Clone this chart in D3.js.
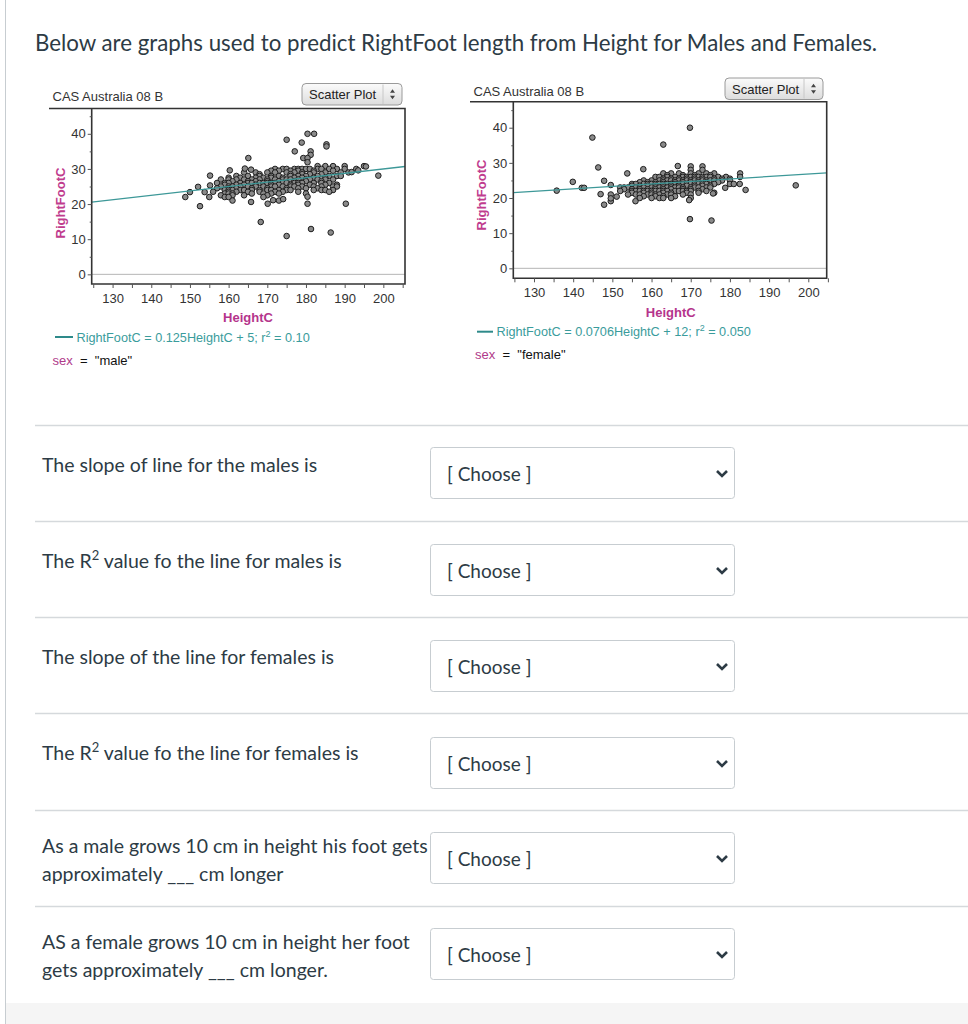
<!DOCTYPE html>
<html><head><meta charset="utf-8">
<script src="https://cdn.jsdelivr.net/npm/d3@7"></script>
<style>html,body{margin:0;padding:0;background:#fff;} svg{display:block}</style>
</head><body><svg id="page" width="968" height="1024"></svg>
<script>
// ---------------- DATA ----------------
const pageTitle = "Below are graphs used to predict RightFoot length from Height for Males and Females.";
const xTicks = [130, 140, 150, 160, 170, 180, 190, 200];
const yTicks = [0, 10, 20, 30, 40];

// males: rows of RightFootC value with the HeightC values seen on that row
const maleRows = [
  [30.8, [183, 185, 187, 190, 195]],
  [30, [172, 174, 175, 177, 178, 179, 180, 181, 183, 184, 186, 188, 190, 193]],
  [29.5, [171, 173, 176, 178, 182, 187]],
  [29, [164, 167, 170, 172, 175, 177, 179, 182, 185, 189, 191]],
  [28.5, [168, 176, 179, 181, 184]],
  [28, [162, 165, 168, 171, 173, 176, 178, 180, 183, 186, 188, 189]],
  [27.5, [160, 163, 167, 169, 171, 174, 177, 179, 182, 185]],
  [27, [158, 160, 162, 164, 166, 168, 170, 172, 174, 175, 176, 178, 180, 181, 183, 185, 187]],
  [26.5, [161, 165, 167, 170, 173, 177, 180, 184]],
  [26, [157, 159, 160, 163, 165, 166, 168, 169, 170, 171, 172, 174, 175, 177, 178, 179, 182, 184, 186]],
  [25.5, [159, 162, 164, 167, 171, 173, 176, 178, 181, 185, 188]],
  [25, [158, 160, 161, 163, 165, 167, 169, 171, 172, 174, 176, 177, 179, 182, 184, 187, 188]],
  [24.5, [157, 160, 162, 166, 170, 175, 178, 180, 183]],
  [24, [159, 160, 161, 163, 164, 166, 168, 170, 171, 173, 175, 176, 182, 184, 185, 187]],
  [23.5, [156, 160, 162, 165, 168, 172, 174, 178, 186]],
  [23, [159, 160, 161, 166, 169, 171, 173, 180]],
  [22.5, [158, 161, 164, 170]],
  [22, [159, 160, 169]],
  [21, [161, 173]]
];
const maleOutliers = [
  [175, 38.3], [180.4, 40], [182.1, 40], [178.9, 37.5], [185.3, 37], [185.3, 36.4],
  [177.1, 35], [181.2, 35], [181.2, 34], [179.3, 33.1], [180.4, 33.1], [180.4, 31.9],
  [165.1, 33.1], [155.2, 28.1], [160.3, 29.6], [164.2, 30.1], [165.8, 29.8], [198.7, 28.1],
  [195.5, 30.7], [193.5, 29.6], [191.8, 29.1], [148.8, 22], [150, 23.4], [152.6, 19.4],
  [152.1, 24.9], [153.8, 23.4], [155, 22], [155.2, 25.3], [165.8, 20.6], [170.1, 20.1],
  [171.5, 21.1], [174.1, 21.4], [180.4, 20.1], [180.4, 22.1], [190.3, 20.1], [168.3, 14.9],
  [175, 10.9], [181.3, 12.9], [186.4, 11.9]
];

// females
const femaleRows = [
  [29, [170, 173]],
  [28, [170, 173]],
  [27, [163, 165, 167, 170, 172, 174, 176]],
  [26.5, [164, 168, 171, 175]],
  [26, [161, 162, 164, 166, 168, 169, 170, 171, 172, 173, 174, 175, 177, 179]],
  [25.5, [163, 165, 167, 169, 171, 173, 176, 178, 180]],
  [25, [158, 160, 162, 163, 164, 165, 166, 167, 168, 169, 170, 171, 172, 173, 174, 175, 176, 178, 180]],
  [24.5, [157, 159, 161, 163, 166, 168, 170, 172, 174, 177]],
  [24, [155, 156, 158, 159, 160, 161, 162, 163, 164, 165, 166, 167, 168, 169, 170, 171, 172, 173, 174, 176, 180]],
  [23.5, [155, 157, 159, 161, 163, 165, 167, 169, 171, 173, 175]],
  [23, [152, 153, 154, 156, 157, 158, 160, 161, 162, 163, 164, 165, 166, 167, 168, 170, 171, 172, 174, 175]],
  [22.5, [153, 155, 157, 159, 161, 163, 165, 168, 170, 173]],
  [22, [152, 155, 156, 157, 158, 159, 160, 161, 162, 163, 164, 166, 167, 168, 169, 170, 172, 174]],
  [21.5, [155, 158, 160, 163, 165, 169, 172, 176]],
  [21, [154, 156, 157, 159, 160, 161, 162, 164, 165, 168, 170]],
  [20.5, [158, 161, 163, 166]],
  [20, [157, 160, 162, 163, 165, 170]]
];
const femaleOutliers = [
  [169.8, 40], [144.9, 37.2], [163, 35.2], [146.4, 28.7], [139.9, 24.6], [135.8, 22.1],
  [142.2, 22.9], [142.8, 22.9], [147.9, 24.9], [147, 21.1], [147.9, 18.1], [149.6, 21],
  [149.6, 19.1], [149.6, 19.9], [151.1, 20.4], [149.6, 23.7], [153.8, 27], [157.9, 28.2],
  [155.9, 19.1], [166.7, 29.1], [169.6, 19.4], [169.8, 14], [175.3, 13.6], [184, 22.3],
  [196.8, 23.6], [178.8, 22.9], [175.7, 21.3], [182.6, 27], [182.6, 26], [181, 24], [182.5, 24]
];

const maleFit = {slope: 0.125, intercept: 5};
const femaleFit = {slope: 0.0706, intercept: 12.7};
const maleFormula = ["RightFootC = 0.125HeightC + 5; r", "2", " = 0.10"];
const femaleFormula = ["RightFootC = 0.0706HeightC + 12; r", "2", " = 0.050"];
const sexValues = ["\"male\"", "\"female\""];

const questions = [
  [["The slope of line for the males is"]],
  [["The R", "2", " value fo the line for males is"]],
  [["The slope of the line for females is"]],
  [["The R", "2", " value fo the line for females is"]],
  [["As a male grows 10 cm in height his foot gets"], ["approximately ___ cm longer"]],
  [["AS a female grows 10 cm in height her foot"], ["gets approximately ___ cm longer."]]
];
const choiceLabel = "[ Choose ]";

// ---------------- DRAWING ----------------
const svg = d3.select("#page");
const pageFont = "Lato, 'Noto Sans', sans-serif";
const chartFont = "'Liberation Sans', Arial, sans-serif";
const ink = "#2d3b45";
const cfs = 13; // chart font size

const flatten = (rows, outl) => rows.flatMap(([f, hs]) => hs.map(h => [h, f])).concat(outl);

// page frame
svg.append("line").attr("x1", 5.5).attr("x2", 5.5).attr("y1", 0).attr("y2", 1024)
  .attr("stroke", "#c7cdd1").attr("stroke-width", 1);
svg.append("rect").attr("x", 6).attr("y", 1003).attr("width", 962).attr("height", 21).attr("fill", "#f5f5f5");

svg.append("text").attr("x", 35).attr("y", 51).attr("font-family", pageFont).attr("font-size", 22.3)
  .attr("fill", ink).text(pageTitle);

const defs = svg.append("defs");
const grad = defs.append("linearGradient").attr("id", "btn").attr("x1", 0).attr("x2", 0).attr("y1", 0).attr("y2", 1);
grad.append("stop").attr("offset", "0%").attr("stop-color", "#fbfbfb");
grad.append("stop").attr("offset", "100%").attr("stop-color", "#dcdcdc");

function drawChart(c, idx) {
  const g = svg.append("g");
  const x = d3.scaleLinear().domain(c.xDomain).range([c.left, c.right]);
  const y = d3.scaleLinear().domain(c.yDomain).range([c.bottom, c.top]);
  const clipId = "clip" + idx;
  defs.append("clipPath").attr("id", clipId).append("rect")
    .attr("x", c.left).attr("y", c.top).attr("width", c.right - c.left).attr("height", c.bottom - c.top);

  // header
  g.append("text").attr("x", c.headerLeft + 3.5).attr("y", c.titleY).attr("font-family", chartFont)
    .attr("font-size", cfs).attr("fill", "#333").text("CAS Australia 08 B");
  const b = c.button;
  g.append("rect").attr("x", b[0]).attr("y", b[1]).attr("width", b[2]).attr("height", b[3]).attr("rx", 4)
    .attr("fill", "url(#btn)").attr("stroke", "#9a9a9a");
  g.append("line").attr("x1", b[0] + b[2] - 19).attr("x2", b[0] + b[2] - 19).attr("y1", b[1] + 1).attr("y2", b[1] + b[3] - 1)
    .attr("stroke", "#c8c8c8");
  g.append("text").attr("x", b[0] + 7).attr("y", b[1] + 15.5).attr("font-family", chartFont)
    .attr("font-size", cfs).attr("fill", "#222").text("Scatter Plot");
  const ax = b[0] + b[2] - 9.5, ay = b[1] + b[3] / 2;
  g.append("path").attr("d", `M${ax - 2.5},${ay - 1.5}L${ax},${ay - 5}L${ax + 2.5},${ay - 1.5}Z M${ax - 2.5},${ay + 1.5}L${ax},${ay + 5}L${ax + 2.5},${ay + 1.5}Z`)
    .attr("fill", "#444");

  // zero line
  g.append("line").attr("x1", c.left).attr("x2", c.right).attr("y1", y(0)).attr("y2", y(0))
    .attr("stroke", "#b5b5b5").attr("stroke-width", 1);

  // points
  const pts = g.append("g").attr("clip-path", `url(#${clipId})`);
  pts.selectAll("circle").data(c.points).join("circle")
    .attr("cx", d => x(d[0])).attr("cy", d => y(d[1])).attr("r", 2.8)
    .attr("fill", "#8a8a8a").attr("stroke", "#1e1e1e").attr("stroke-width", 1);

  // regression line
  const xd = x.domain();
  g.append("line").attr("clip-path", `url(#${clipId})`)
    .attr("x1", x(xd[0])).attr("y1", y(c.fit.slope * xd[0] + c.fit.intercept))
    .attr("x2", x(xd[1])).attr("y2", y(c.fit.slope * xd[1] + c.fit.intercept))
    .attr("stroke", "#3d9898").attr("stroke-width", 1.3);

  // frame
  g.append("path").attr("d", `M${c.headerLeft},${c.top}H${c.right}V${c.bottom}H${c.left}V${c.top}`)
    .attr("fill", "none").attr("stroke", "#333").attr("stroke-width", 1.6);

  // x axis
  const xa = g.append("g").attr("transform", `translate(0,${c.bottom})`)
    .call(d3.axisBottom(x).tickValues(d3.range(125, 206, 5)).tickSize(4).tickPadding(5.4)
      .tickFormat(d => xTicks.includes(d) ? d : ""));
  xa.select(".domain").remove();
  xa.selectAll("line").attr("stroke", "#555");
  xa.selectAll("text").attr("font-family", chartFont).attr("font-size", cfs).attr("fill", "#333");

  // y axis
  const ya = g.append("g").attr("transform", `translate(${c.left},0)`)
    .call(d3.axisLeft(y).tickValues(d3.range(0, 46, 5)).tickSize(4).tickPadding(2)
      .tickFormat(d => yTicks.includes(d) ? d : ""));
  ya.select(".domain").remove();
  ya.selectAll("line").attr("stroke", "#555").attr("x2", d => yTicks.includes(d) ? -4 : -2);
  ya.selectAll("text").attr("font-family", chartFont).attr("font-size", cfs).attr("fill", "#333");

  // axis titles
  g.append("text").attr("transform", `translate(${c.ylab[0]},${c.ylab[1]}) rotate(-90)`)
    .attr("text-anchor", "middle").attr("font-family", chartFont).attr("font-size", cfs).attr("font-weight", "bold")
    .attr("fill", "#c03c8e").attr("dy", "0.35em").text("RightFootC");
  g.append("text").attr("x", c.xlab[0]).attr("y", c.xlab[1])
    .attr("text-anchor", "middle").attr("font-family", chartFont).attr("font-size", cfs).attr("font-weight", "bold")
    .attr("fill", "#b5348c").text("HeightC");

  // legend
  g.append("line").attr("x1", c.legLine[0]).attr("x2", c.legLine[1]).attr("y1", c.legY).attr("y2", c.legY)
    .attr("stroke", "#2e8a8a").attr("stroke-width", 2);
  const lt = g.append("text").attr("x", c.legLine[1] + 3.5).attr("y", c.legY + 4.5)
    .attr("font-family", chartFont).attr("font-size", 12.7).attr("fill", "#3a9c9c");
  lt.append("tspan").text(c.formula[0]);
  lt.append("tspan").attr("dy", -5).attr("font-size", 9).text(c.formula[1]);
  lt.append("tspan").attr("dy", 5).text(c.formula[2]);

  const st = g.append("text").attr("x", c.sexX).attr("y", c.sexY)
    .attr("font-family", chartFont).attr("font-size", cfs).attr("fill", "#111").attr("xml:space", "preserve");
  st.append("tspan").attr("fill", "#b03a8a").text("sex");
  st.append("tspan").text("  =  ");
  st.append("tspan").text(c.sex);
}

drawChart({
  left: 91.7, right: 405, top: 108.5, bottom: 284, headerLeft: 49,
  xDomain: [124.6, 205.6], yDomain: [-2.75, 47.2],
  titleY: 101.3, button: [302, 83.5, 100, 21.5],
  ylab: [60, 203], xlab: [248, 321.6], legLine: [55, 73], legY: 337, sexX: 52.5, sexY: 364.6,
  points: flatten(maleRows, maleOutliers), fit: maleFit, formula: maleFormula, sex: sexValues[0]
}, 0);

drawChart({
  left: 513.3, right: 826.7, top: 101.7, bottom: 278.3, headerLeft: 470,
  xDomain: [124.72, 204.7], yDomain: [-2.84, 47.4],
  titleY: 96.3, button: [725, 78, 98, 21.5],
  ylab: [481.5, 195], xlab: [670.7, 316.6], legLine: [477, 493], legY: 331.7, sexX: 475, sexY: 359,
  points: flatten(femaleRows, femaleOutliers), fit: femaleFit, formula: femaleFormula, sex: sexValues[1]
}, 1);

// ---------------- QUESTIONS ----------------
const sepY = [425, 521, 617, 713, 810, 906];
const boxTop = [447, 544, 640, 737, 832, 928];
const qfs = 19.5;
const qg = svg.append("g");
questions.forEach((q, i) => {
  qg.append("line").attr("x1", 35).attr("x2", 968).attr("y1", sepY[i] + 0.5).attr("y2", sepY[i] + 0.5)
    .attr("stroke", "#d5d9dc").attr("stroke-width", 1.3);
  const base = q.length === 1 ? [sepY[i] + 46.5] : [sepY[i] + 42.5, sepY[i] + 70.5];
  q.forEach((parts, li) => {
    const t = qg.append("text").attr("x", 42).attr("y", base[li]).attr("font-family", pageFont)
      .attr("font-size", qfs).attr("fill", ink);
    if (parts.length === 1) t.text(parts[0]);
    else {
      t.append("tspan").text(parts[0]);
      t.append("tspan").attr("dy", -7.5).attr("font-size", 13).text(parts[1]);
      t.append("tspan").attr("dy", 7.5).text(parts[2]);
    }
  });
  const bt = boxTop[i];
  qg.append("rect").attr("x", 430.5).attr("y", bt + 0.5).attr("width", 304).attr("height", 51).attr("rx", 3)
    .attr("fill", "#fff").attr("stroke", "#c7cdd1");
  qg.append("text").attr("x", 447).attr("y", bt + 33.5).attr("font-family", pageFont).attr("font-size", 19)
    .attr("fill", ink).text(choiceLabel);
  const cx = 722, cy = bt + 27;
  qg.append("path").attr("d", `M${cx - 5},${cy - 3}L${cx},${cy + 2}L${cx + 5},${cy - 3}`)
    .attr("fill", "none").attr("stroke", ink).attr("stroke-width", 2.6);
});
</script></body></html>
